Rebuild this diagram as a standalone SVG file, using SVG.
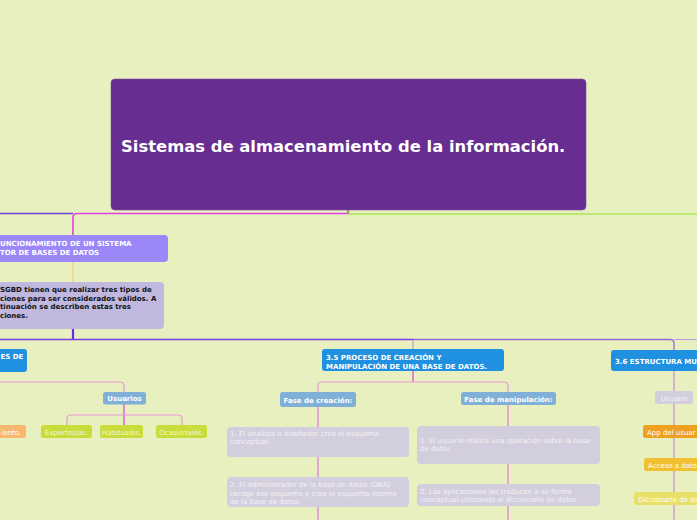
<svg xmlns="http://www.w3.org/2000/svg" width="697" height="520" viewBox="0 0 697 520">
<style>
text{font-family:"DejaVu Sans",Verdana,sans-serif}
.b{font-weight:bold}
.w{fill:#ffffff}
.s{font-size:7px}
.g{fill:#f2f0f4}
.c{stroke-linecap:butt;fill:none}
</style>
<rect width="697" height="520" fill="#e9f0c0"/>
<g id="connectors" class="c">
<path d="M73,213.5 H0" stroke="#6a40d8" stroke-width="1.6" fill="none"/>
<path d="M348,210 V213.5 H77 Q73,213.5 73,217.5 V235" stroke="#e040e0" stroke-width="1.6" fill="none"/>
<path d="M349,210 V214 H697" stroke="#8ee020" stroke-width="1.2" fill="none"/>
<path d="M73,262 V282" stroke="#e8d890" stroke-width="1.5" fill="none"/>
<path d="M73,329 V340" stroke="#6a28f0" stroke-width="2.2" fill="none"/>
<path d="M0,339.5 H413" stroke="#7a3ee0" stroke-width="1.6" fill="none"/>
<path d="M413,339.5 H670 Q674,339.5 674,343.5 V350" stroke="#9a68d6" stroke-width="1.3" fill="none"/>
<path d="M674,339.5 H697" stroke="#b8a0d8" stroke-width="1.1" fill="none"/>
<path d="M413,340 V349" stroke="#a898c8" stroke-width="1" fill="none"/>
<path d="M413,371 V382" stroke="#e040e0" stroke-width="1.2" fill="none"/>
<path d="M318,392 V386 Q318,382 322,382 H504 Q508,382 508,386 V392" stroke="#ec98d8" stroke-width="1.2" fill="none"/>
<path d="M318,407 V520" stroke="#e078d8" stroke-width="1.2" fill="none"/>
<path d="M508,405 V520" stroke="#e078d8" stroke-width="1.2" fill="none"/>
<path d="M0,382 H120 Q124,382 124,386 V392" stroke="#ec98d8" stroke-width="1.2" fill="none"/>
<path d="M124,404 V425" stroke="#e040e0" stroke-width="1.2" fill="none"/>
<path d="M67,425 V419 Q67,415 71,415 H178 Q182,415 182,419 V425" stroke="#ec98d8" stroke-width="1.2" fill="none"/>
<path d="M674,371 V520" stroke="#c888d8" stroke-width="1.2" fill="none"/>
</g>
<g id="title">
<rect x="111" y="79" width="475" height="131" rx="4" fill="#672d91" stroke="#7d4a9e" stroke-width="0.6"/>
<text x="121" y="152" class="b w" font-size="16.4">Sistemas de almacenamiento de la información.</text>
</g>
<g id="funcionamiento">
<rect x="-10" y="235" width="178" height="27" rx="4" fill="#9b87fa"/>
<text x="0" y="246" class="b w s">UNCIONAMIENTO DE UN SISTEMA</text>
<text x="0" y="255" class="b w s">TOR DE BASES DE DATOS</text>
</g>
<g id="sgbd">
<rect x="-10" y="282" width="174" height="47" rx="4" fill="#c0b8de"/>
<text x="0" y="292" class="b s" fill="#111">SGBD tienen que realizar tres tipos de</text>
<text x="0" y="300.5" class="b s" fill="#111">ciones para ser considerados válidos. A</text>
<text x="0" y="309" class="b s" fill="#111">tinuación se describen estas tres</text>
<text x="0" y="317.5" class="b s" fill="#111">ciones.</text>
</g>
<g id="n34">
<rect x="-10" y="349" width="37" height="23" rx="3" fill="#2090e0"/>
<text x="0.5" y="358.5" class="b w s">ES DE</text>
</g>
<g id="usuarios">
<rect x="103" y="392" width="43" height="12.5" rx="2.5" fill="#80b0d8"/>
<text x="124.5" y="401" class="b w s" text-anchor="middle">Usuarios</text>
</g>
<g id="iento">
<rect x="-10" y="425" width="36" height="13" rx="2.5" fill="#f8b870"/>
<text x="1" y="434.5" class="w s">iento.</text>
</g>
<g id="expertos">
<rect x="41" y="425" width="51" height="13" rx="2.5" fill="#c8dc3c"/>
<text x="66.5" y="434.5" class="s" fill="#f4f6d8" text-anchor="middle">Expertos/as.</text>
</g>
<g id="habituales">
<rect x="100" y="425" width="43" height="13" rx="2.5" fill="#c8dc3c"/>
<text x="121.5" y="434.5" class="s" fill="#f4f6d8" text-anchor="middle">Habituales.</text>
</g>
<g id="ocasionales">
<rect x="156" y="425" width="51" height="13" rx="2.5" fill="#c8dc3c"/>
<text x="181.5" y="434.5" class="s" fill="#f4f6d8" text-anchor="middle">Ocasionales.</text>
</g>
<g id="n35">
<rect x="322" y="349" width="182" height="22" rx="3" fill="#2090e0"/>
<text x="326" y="360" class="b w s">3.5 PROCESO DE CREACIÓN Y</text>
<text x="326" y="368.5" class="b w s">MANIPULACIÓN DE UNA BASE DE DATOS.</text>
</g>
<g id="fasecreacion">
<rect x="280" y="392" width="76" height="15" rx="2.5" fill="#80b0d8"/>
<text x="318" y="402.5" class="b w s" text-anchor="middle">Fase de creación:</text>
</g>
<g id="creacion1">
<rect x="227" y="427" width="182" height="30" rx="4" fill="#d2cede"/>
<text x="230" y="435.5" class="s g">1. El analista o diseñador crea el esquema</text>
<text x="230" y="444" class="s g">conceptual.</text>
</g>
<g id="creacion2">
<rect x="227" y="477" width="182" height="30" rx="4" fill="#d2cede"/>
<text x="230" y="487" class="s g">2. El administrador de la base de datos (DBA)</text>
<text x="230" y="495.5" class="s g">recoge ese esquema y crea el esquema interno</text>
<text x="230" y="504" class="s g">de la base de datos.</text>
</g>
<g id="fasemanip">
<rect x="461" y="392" width="95" height="13" rx="2.5" fill="#80b0d8"/>
<text x="508.5" y="401.5" class="b w s" text-anchor="middle">Fase de manipulación:</text>
</g>
<g id="manip1">
<rect x="417" y="426" width="183" height="38" rx="4" fill="#d2cede"/>
<text x="420" y="442.5" class="s g">1. El usuario realiza una operación sobre la base</text>
<text x="420" y="451" class="s g">de datos</text>
</g>
<g id="manip2">
<rect x="417" y="484" width="183" height="22" rx="4" fill="#d2cede"/>
<text x="420" y="493.5" class="s g">2. Las aplicaciones las traducen a su forma</text>
<text x="420" y="502" class="s g">conceptual utilizando el diccionario de datos</text>
</g>
<g id="n36">
<rect x="611" y="350" width="96" height="21" rx="3" fill="#2090e0"/>
<text x="615" y="364" class="b w s">3.6 ESTRUCTURA MU</text>
</g>
<g id="usuario">
<rect x="655" y="391" width="38" height="13" rx="2.5" fill="#d2cede"/>
<text x="674" y="400.5" class="s g" text-anchor="middle">Usuario</text>
</g>
<g id="app">
<rect x="643" y="425" width="64" height="13" rx="2.5" fill="#f0a020"/>
<text x="647" y="434.5" class="s w">App del usuar</text>
</g>
<g id="acceso">
<rect x="644" y="458" width="63" height="13" rx="2.5" fill="#f0c030"/>
<text x="648" y="467.5" class="s w">Acceso a dato</text>
</g>
<g id="diccionario">
<rect x="634" y="492" width="73" height="13" rx="2.5" fill="#e8e068"/>
<text x="638" y="501.5" class="s w">Diccionario de da</text>
</g>
</svg>
